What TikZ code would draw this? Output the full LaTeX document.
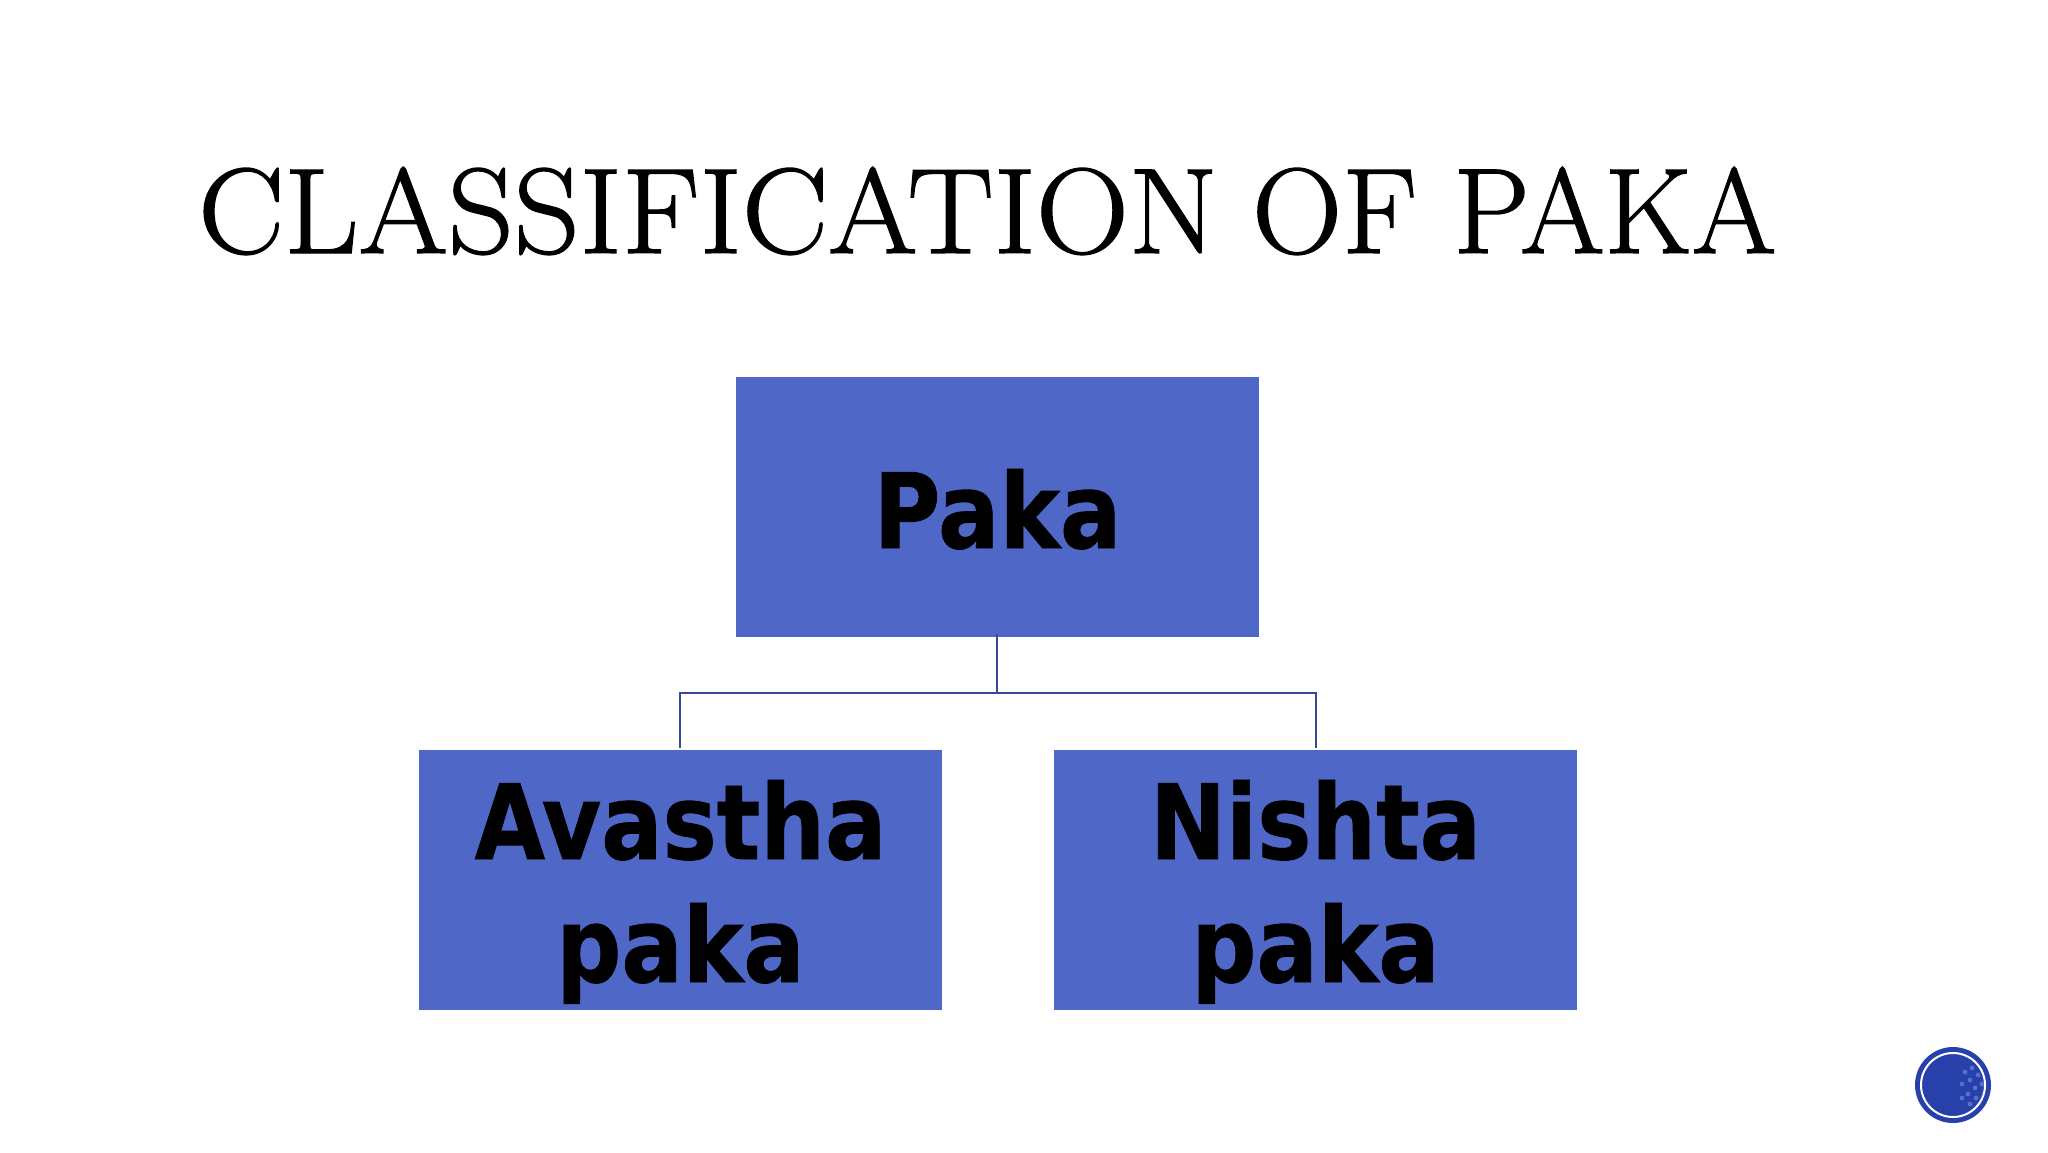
\documentclass[tikz,border=0pt]{standalone}
\usepackage{fontspec}
\usepackage{graphicx}
\setmainfont{Latin Modern Roman}
\newfontfamily\titlefont{Latin Modern Roman}[FakeBold=1.1]
\newfontfamily\boxfont{DejaVu Sans Bold}[FakeBold=0.8]
\definecolor{boxblue}{RGB}{79,103,198}
\definecolor{linkblue}{RGB}{55,72,155}
\definecolor{dotblue}{RGB}{40,64,170}
\definecolor{dotlight}{RGB}{85,112,208}
\newcommand{\oneline}[2]{\raisebox{#2}[0pt][0pt]{\scalebox{.875}[1]{\fontsize{104pt}{123pt}\boxfont #1}}}
\newcommand{\twolines}[2]{\raisebox{21pt}[0pt][0pt]{\scalebox{.875}[1]{\fontsize{104pt}{123pt}\boxfont\begin{tabular}[t]{@{}c@{}}#1\\#2\end{tabular}}}}
\tikzset{
  kind/.style={fill=boxblue,draw=none,inner sep=0pt,minimum height=260pt,text=black,anchor=center},
  link/.style={draw=linkblue,line width=1.6pt},
}
\begin{document}
\begin{tikzpicture}[x=1pt,y=-1pt]
\useasboundingbox[fill=white] (0,0) rectangle (2048,1152);
\node[anchor=base west,inner sep=0pt] (title) at (198,253) {\resizebox{1578pt}{86pt}{\fontsize{126pt}{130pt}\titlefont\scalebox{1.022}[1]{CLASSIFICATION}\hspace{34pt}\scalebox{.99}[1]{OF}\hspace{36pt}\scalebox{.964}[1]{PAKA}}};
\node[kind,minimum width=523pt] (paka) at (997.5,507) {\oneline{Paka}{-41pt}};
\node[kind,minimum width=523pt] (avastha) at (680.5,880) {\twolines{Avastha}{paka}};
\node[kind,minimum width=523pt] (nishta) at (1315.5,880) {\twolines{Nishta}{paka}};
\coordinate (bus) at (997,693);
\coordinate (busleft) at (680,693);
\coordinate (busright) at (1316,693);
\coordinate (dropleft) at (680,748);
\coordinate (dropright) at (1316,748);
\draw[link] ([xshift=-.5pt,yshift=3pt]paka.south) -- (bus);
\draw[link] (dropleft) -- (busleft) -- (busright) -- (dropright);
\node[circle,fill=dotblue,minimum size=76pt,inner sep=0pt] (badge) at (1953,1085) {};
\draw[white,line width=2pt] (badge.center) circle (32pt);
\begin{scope}
\clip (badge.center) circle (31pt);
\foreach \x/\y in {1965/1072,1972/1068,1978/1075,1970/1080,1962/1084,1975/1088,1982/1084,1968/1094,1976/1098,1962/1098,1984/1094,1970/1104}
  \fill[dotlight] (\x,\y) circle (2.4pt);
\end{scope}
\end{tikzpicture}
\end{document}
